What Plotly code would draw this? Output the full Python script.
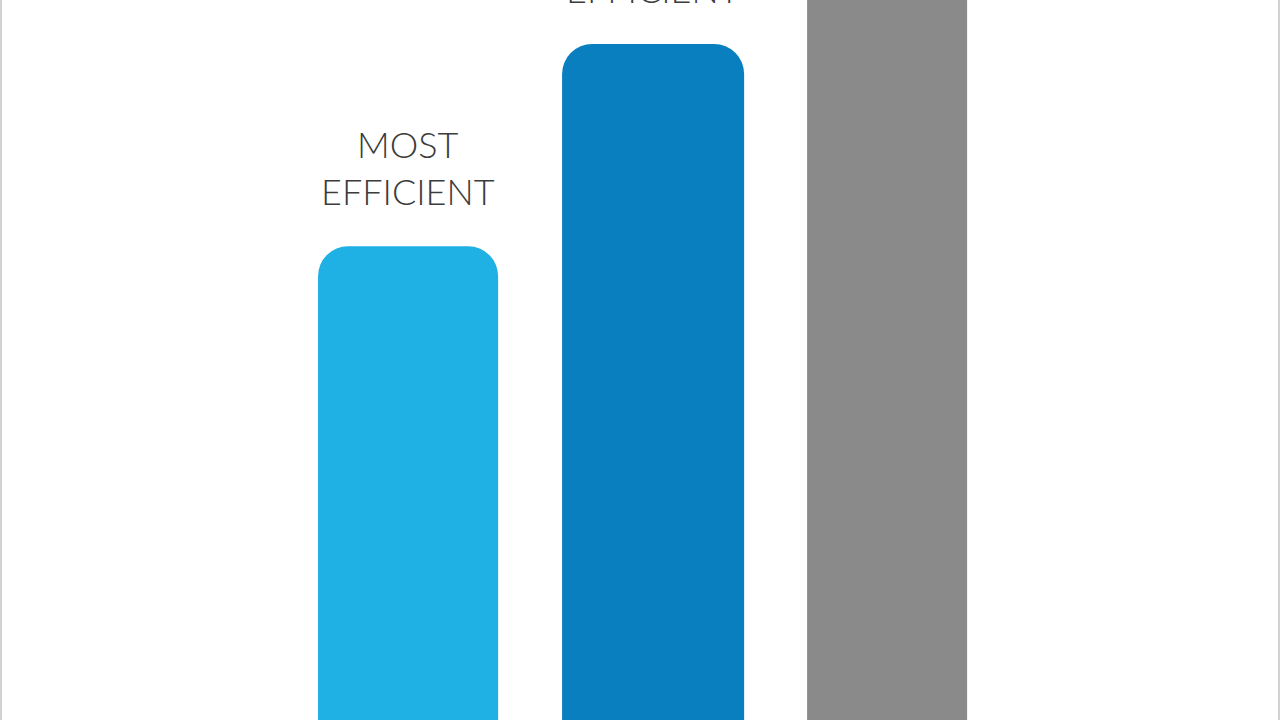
import plotly.graph_objects as go

# bars, left to right
categories = ['most', 'less', 'least']
values = [65.8, 93.9, 118]
labels = ['MOST<br>EFFICIENT', 'LESS<br>EFFICIENT', '']
colors = ['#1fb0e4', '#0a7fbf', '#8a8a8a']

fig = go.Figure()

fig.add_trace(go.Bar(
    x=categories,
    y=values,
    marker_color=colors,
    marker_line_width=0,
    width=[0.735, 0.743, 0.653],
    offset=[-0.367, -0.371, -0.371],
    hoverinfo='skip',
))

for cat, val, lab in zip(categories, values, labels):
    if lab:
        fig.add_annotation(x=cat, y=val, text=lab, showarrow=False,
                           yanchor='bottom', yshift=31,
                           font=dict(family='Lato', size=36, color='#3c3c3c', weight=300))

# faint frame on the left and right edges
for xpos in [0, 1]:
    fig.add_shape(type='line', xref='paper', yref='paper', x0=xpos, x1=xpos, y0=0, y1=1,
                  line=dict(color='#d2d2d2', width=4))

fig.update_xaxes(visible=False, range=[-1.665, 3.559])
fig.update_yaxes(visible=False, range=[0, 100])

fig.update_layout(
    width=1280, height=720,
    margin=dict(l=0, r=0, t=0, b=0),
    paper_bgcolor='white', plot_bgcolor='white',
    barcornerradius=30,
    showlegend=False,
)

fig.write_html("out.html", config={'displayModeBar': False},
               post_script="document.body.style.margin='0';")
